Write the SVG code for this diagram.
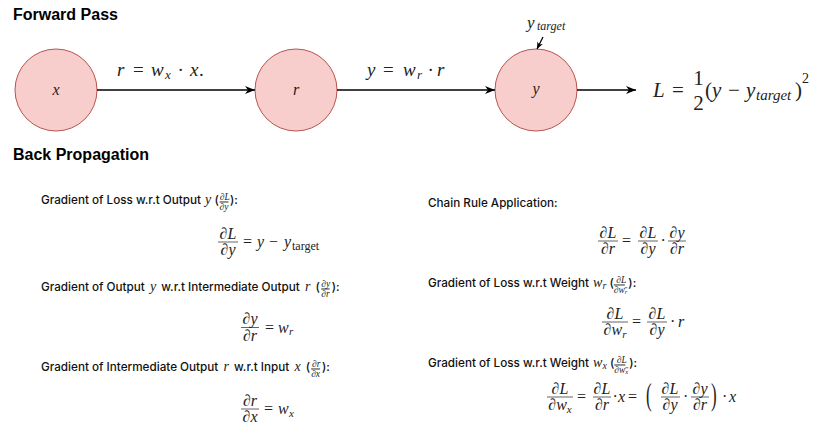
<svg xmlns="http://www.w3.org/2000/svg" width="819" height="433" viewBox="0 0 819 433">
<defs>
<style>
.title{font-family:"Liberation Sans",Arial,sans-serif;font-weight:bold;font-size:16px;fill:#000}
.t{font-family:Inter,"Liberation Sans",sans-serif;font-size:11.7px;font-weight:500;fill:#111}
.mi{font-family:"Liberation Serif",serif;font-style:italic;font-weight:normal;font-size:14px;fill:#222}
.sb{font-size:10px}
.sf{font-family:"Liberation Serif",serif;font-style:italic;font-weight:normal;font-size:9.5px;fill:#222}
.ss{font-size:6.5px}
.fo{text-decoration:overline}
.m{font-family:"Liberation Serif",serif;font-style:italic;font-size:16px;fill:#222}
.op{font-style:normal}
.fl{stroke:#222;stroke-width:0.7}
.node circle{fill:#f8cecc;stroke:#b85450;stroke-width:1}
.edge{stroke:#000;stroke-width:1.3;fill:none}
</style>
<marker id="arr" markerUnits="userSpaceOnUse" markerWidth="10" markerHeight="8" refX="10" refY="4" orient="auto">
<path d="M0,0 L10,4 L0,8 L3,4 Z" fill="#000"/>
</marker>
<marker id="arrs" markerUnits="userSpaceOnUse" markerWidth="7" markerHeight="6" refX="7" refY="3" orient="auto">
<path d="M0,0 L7,3 L0,6 L2,3 Z" fill="#000"/>
</marker>
</defs>
<rect width="819" height="433" fill="#fff"/>

<text class="title" x="13" y="20">Forward Pass</text>
<text class="title" x="13" y="160">Back Propagation</text>

<g id="node-x" class="node"><circle cx="56" cy="90" r="41"/><text class="m" x="56" y="95" text-anchor="middle">x</text></g>
<g id="node-r" class="node"><circle cx="296" cy="90" r="41"/><text class="m" x="296" y="95" text-anchor="middle">r</text></g>
<g id="node-y" class="node"><circle cx="536" cy="90" r="41"/><text class="m" x="536" y="94" text-anchor="middle">y</text></g>

<g id="connectors">
<line class="edge" x1="97" y1="90" x2="255" y2="90" marker-end="url(#arr)"/>
<line class="edge" x1="337" y1="90" x2="495" y2="90" marker-end="url(#arr)"/>
<line class="edge" x1="577" y1="90" x2="636" y2="90" marker-end="url(#arr)"/>
<line class="edge" x1="543" y1="37" x2="537" y2="49" stroke-width="1" marker-end="url(#arrs)"/>
<text class="m" y="76" style="font-size:19px"><tspan x="117">r</tspan><tspan x="133" class="op">=</tspan><tspan x="151">w</tspan><tspan x="165" dy="3" style="font-size:13px">x</tspan><tspan x="177.5" dy="-3" class="op">·</tspan><tspan x="190">x</tspan><tspan x="199" class="op">.</tspan></text>
<text class="m" y="76" style="font-size:19px"><tspan x="367">y</tspan><tspan x="383" class="op">=</tspan><tspan x="403">w</tspan><tspan x="417" dy="3" style="font-size:13px">r</tspan><tspan x="427.5" dy="-3" class="op">·</tspan><tspan x="437">r</tspan></text>
<text class="m" y="28" style="font-size:17px"><tspan x="527">y</tspan><tspan x="537" dy="2" style="font-size:12px">target</tspan></text>
</g>

<g id="loss" class="m" style="font-size:21px">
<text x="653" y="97">L</text>
<text x="672" y="97" class="op">=</text>
<text x="698.5" y="85" class="op" text-anchor="middle">1</text>
<text x="698.5" y="110" class="op" text-anchor="middle">2</text>
<text x="705" y="97" class="op">(</text>
<text x="712" y="97">y</text>
<text x="728" y="97" class="op">−</text>
<text x="746" y="97">y</text>
<text x="756" y="100" style="font-size:15px">target</text>
<text x="795" y="97" class="op">)</text>
<text x="802" y="83" class="op" style="font-size:14px">2</text>
</g>

<g id="grad-y">
<text class="t" x="41" y="204">Gradient of Loss w.r.t Output <tspan class="mi" dx="1">y</tspan> (<tspan class="sf" dx="1" dy="-4.5">∂L</tspan><tspan class="sf fo" dx="-10.2" dy="10">∂y</tspan><tspan dx="1.5" dy="-5.5">):</tspan></text>
<text class="m" x="228" y="239" text-anchor="middle">∂L</text>
<line class="fl" x1="218" y1="242" x2="238" y2="242"/>
<text class="m" x="228" y="255" text-anchor="middle">∂y</text>
<text class="m" y="247"><tspan x="243" class="op">=</tspan><tspan x="257">y</tspan><tspan x="269" class="op">−</tspan><tspan x="284">y</tspan><tspan x="292" dy="3" class="op" style="font-size:12px">target</tspan></text>
</g>

<g id="grad-out-r">
<text class="t" x="41" y="291">Gradient of Output <tspan class="mi" dx="2">y</tspan><tspan dx="2"> w.r.t Intermediate Output </tspan><tspan class="mi" dx="2">r</tspan><tspan dx="2"> (</tspan><tspan class="sf" dx="1.5" dy="-4.5">∂y</tspan><tspan class="sf fo" dx="-9" dy="10">∂r</tspan><tspan dx="2" dy="-5.5">):</tspan></text>
<text class="m" x="250" y="324" text-anchor="middle">∂y</text>
<line class="fl" x1="241" y1="327.5" x2="259" y2="327.5"/>
<text class="m" x="250" y="340.5" text-anchor="middle">∂r</text>
<text class="m" y="332.5"><tspan x="265" class="op">=</tspan><tspan x="278">w</tspan><tspan x="289" dy="2.5" style="font-size:11px">r</tspan></text>
</g>

<g id="grad-r-x">
<text class="t" x="41" y="371">Gradient of Intermediate Output <tspan class="mi" dx="2">r</tspan><tspan dx="2"> w.r.t Input </tspan><tspan class="mi" dx="2">x</tspan><tspan dx="2"> (</tspan><tspan class="sf" dx="2" dy="-4.5">∂r</tspan><tspan class="sf fo" dx="-9.3" dy="10">∂x</tspan><tspan dx="2" dy="-5.5">):</tspan></text>
<text class="m" x="250" y="405.5" text-anchor="middle">∂r</text>
<line class="fl" x1="241" y1="409" x2="259" y2="409"/>
<text class="m" x="250" y="421.5" text-anchor="middle">∂x</text>
<text class="m" y="414"><tspan x="264" class="op">=</tspan><tspan x="278">w</tspan><tspan x="289" dy="2.5" style="font-size:11px">x</tspan></text>
</g>

<g id="chain-rule">
<text class="t" x="428" y="207">Chain Rule Application:</text>
<text class="m" x="608" y="238" text-anchor="middle">∂L</text>
<line class="fl" x1="598" y1="241" x2="618" y2="241"/>
<text class="m" x="608" y="254" text-anchor="middle">∂r</text>
<text class="m op" x="622" y="246">=</text>
<text class="m" x="648" y="238" text-anchor="middle">∂L</text>
<line class="fl" x1="638" y1="241" x2="658" y2="241"/>
<text class="m" x="648" y="254" text-anchor="middle">∂y</text>
<text class="m op" x="660.5" y="246">·</text>
<text class="m" x="677" y="238" text-anchor="middle">∂y</text>
<line class="fl" x1="668" y1="241" x2="686" y2="241"/>
<text class="m" x="677" y="254" text-anchor="middle">∂r</text>
</g>

<g id="grad-wr">
<text class="t" x="428" y="287">Gradient of Loss w.r.t Weight <tspan class="mi" dx="1">w</tspan><tspan class="mi sb" dy="2">r</tspan><tspan dy="-2"> (</tspan><tspan class="sf" dx="2.5" dy="-4.5">∂L</tspan><tspan class="sf fo" dx="-12.5" dy="10">∂w<tspan class="ss" dy="1">r</tspan></tspan><tspan dx="1" dy="-6.5">):</tspan></text>
<text class="m" x="615" y="319" text-anchor="middle">∂L</text>
<line class="fl" x1="602" y1="322" x2="628" y2="322"/>
<text class="m" x="615" y="335" text-anchor="middle">∂w<tspan dy="2.5" style="font-size:11px">r</tspan></text>
<text class="m op" x="632" y="327">=</text>
<text class="m" x="657" y="319" text-anchor="middle">∂L</text>
<line class="fl" x1="647" y1="322" x2="667" y2="322"/>
<text class="m" x="657" y="335" text-anchor="middle">∂y</text>
<text class="m" y="327"><tspan x="670" class="op">·</tspan><tspan x="678">r</tspan></text>
</g>

<g id="grad-wx">
<text class="t" x="428" y="367">Gradient of Loss w.r.t Weight <tspan class="mi" dx="1">w</tspan><tspan class="mi sb" dy="2">x</tspan><tspan dy="-2"> (</tspan><tspan class="sf" dx="2.5" dy="-4.5">∂L</tspan><tspan class="sf fo" dx="-12.5" dy="10">∂w<tspan class="ss" dy="1">x</tspan></tspan><tspan dx="1" dy="-6.5">):</tspan></text>
<text class="m" x="560" y="394" text-anchor="middle">∂L</text>
<line class="fl" x1="547" y1="397" x2="573" y2="397"/>
<text class="m" x="560" y="410" text-anchor="middle">∂w<tspan dy="2.5" style="font-size:11px">x</tspan></text>
<text class="m op" x="577" y="402">=</text>
<text class="m" x="602" y="394" text-anchor="middle">∂L</text>
<line class="fl" x1="593" y1="397" x2="611" y2="397"/>
<text class="m" x="602" y="410" text-anchor="middle">∂r</text>
<text class="m" y="402"><tspan x="612.5" class="op">·</tspan><tspan x="618">x</tspan><tspan x="628" class="op">=</tspan></text>
<text class="m op" transform="translate(646,404.5) scale(1,1.9)" x="0" y="0" style="font-size:17px">(</text>
<text class="m" x="670" y="394" text-anchor="middle">∂L</text>
<line class="fl" x1="661" y1="397" x2="680" y2="397"/>
<text class="m" x="670" y="410" text-anchor="middle">∂y</text>
<text class="m op" x="683" y="402">·</text>
<text class="m" x="700" y="394" text-anchor="middle">∂y</text>
<line class="fl" x1="691" y1="397" x2="709" y2="397"/>
<text class="m" x="700" y="410" text-anchor="middle">∂r</text>
<text class="m op" transform="translate(711,404.5) scale(1,1.9)" x="0" y="0" style="font-size:17px">)</text>
<text class="m" y="402"><tspan x="722" class="op">·</tspan><tspan x="729">x</tspan></text>
</g>
</svg>
